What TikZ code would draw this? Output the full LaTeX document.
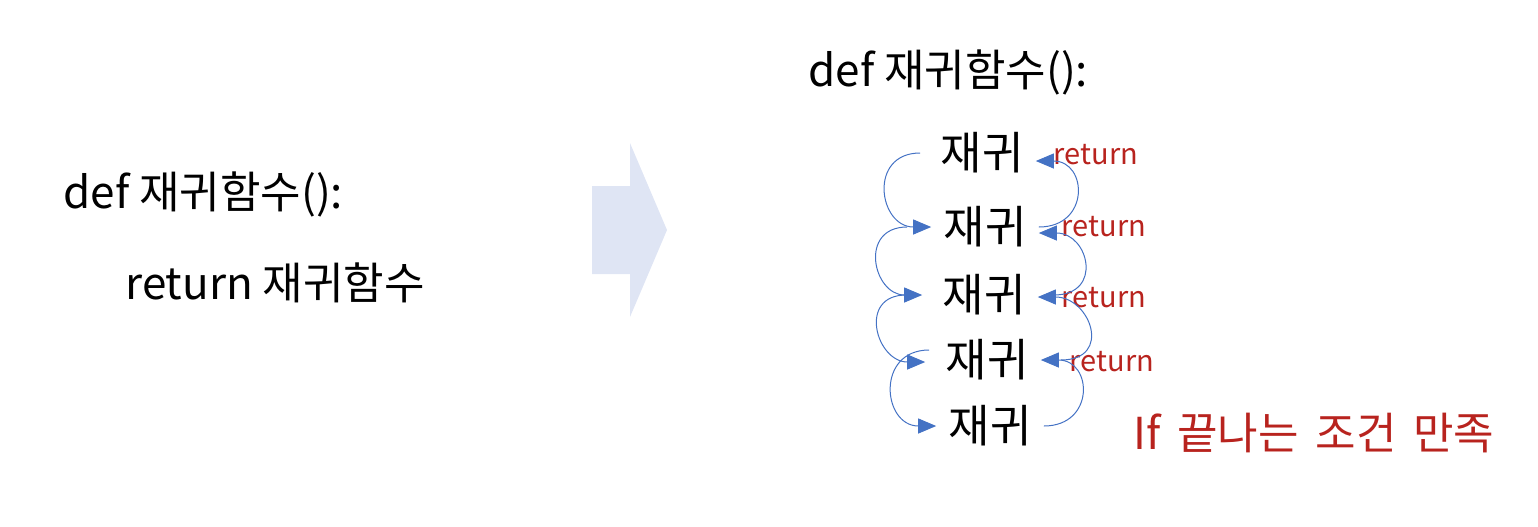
\documentclass[tikz,border=0pt]{standalone}
\usepackage{fontspec}
\setmainfont{Noto Sans CJK KR}
\newfontfamily\condfont[WordSpace=1.7]{Noto Sans CJK KR}
\usepackage{tikz}
\usetikzlibrary{arrows.meta}
\definecolor{callblue}{HTML}{4472C4}
\definecolor{retred}{HTML}{B8231E}
\definecolor{arrowfill}{HTML}{DFE5F4}
\tikzset{
  codetext/.style={inner sep=0pt, anchor=base west, font=\fontsize{22}{26}\selectfont},
  callnode/.style={inner xsep=6pt, inner ysep=0pt, font=\fontsize{22.5}{27}\selectfont},
  retlabel/.style={inner sep=0pt, text=retred, font=\fontsize{14.5}{17}\selectfont},
  callarc/.style={callblue, line width=0.5pt, -{Triangle[length=9pt,width=7.5pt]}, looseness=2}
}

\begin{document}
\begin{tikzpicture}[x=0.5pt, y=-0.5pt]
\useasboundingbox (0,0) rectangle (1538,526);

% left side
\node[codetext] (def1) at (63,208) {def 재귀함수():};
\node[codetext] (ret1) at (125,299) {return 재귀함수};

% big arrow
\fill[arrowfill] (592,186) -- (630,186) -- (630,143) -- (667,230) -- (630,317) -- (630,274) -- (592,274) -- cycle;

% right side
\node[codetext] (def2) at (808,86) {def 재귀함수():};

\node[callnode] (r1) at (982,153) {재귀};
\node[callnode] (r2) at (985,227) {재귀};
\node[callnode] (r3) at (984,295) {재귀};
\node[callnode] (r4) at (987,360) {재귀};
\node[callnode] (r5) at (990,426) {재귀};

\node[retlabel] (t1) at (1096,155) {return};
\node[retlabel] (t2) at (1104,227) {return};
\node[retlabel] (t3) at (1104,298) {return};
\node[retlabel] (t4) at (1112,362) {return};

\node[codetext, text=retred, font=\condfont\fontsize{22}{26}\selectfont] (cond) at (1133,449) {If 끝나는 조건 만족};

% calls
\draw[callarc, looseness=1.8] ([xshift=-4pt]r1.west) to[out=180, in=180] (r2.west);
\draw[callarc, looseness=1.8] ([xshift=-12pt]r2.west) to[out=180, in=180] ([xshift=-4pt]r3.west);
\draw[callarc, looseness=1.8] ([xshift=-12pt]r3.west) to[out=180, in=180] ([xshift=-4pt,yshift=-1pt]r4.west);
\draw[callarc, looseness=1.8] ([xshift=-2pt,yshift=5pt]r4.west) to[out=180, in=180] (r5.west);

% returns
\draw[callarc] (r2.east) to[out=0, in=0] ([yshift=-4pt]r1.east);
\draw[callarc] ([xshift=8pt]r3.east) to[out=0, in=0] ([yshift=-3pt]r2.east);
\draw[callarc] ([xshift=10pt]r4.east) to[out=0, in=0] ([yshift=-1pt]r3.east);
\draw[callarc] (r5.east) to[out=0, in=0] (r4.east);
\end{tikzpicture}
\end{document}
